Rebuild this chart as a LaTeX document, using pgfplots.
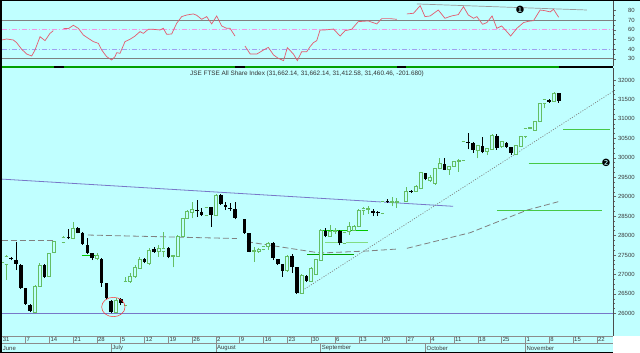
\documentclass[border=0pt]{standalone}
\usepackage{pgfplots}
\pgfplotsset{compat=1.18}
\usepackage{pgfplotstable}
\usepackage{fontspec}
\setmainfont{Liberation Sans}
\newfontfamily\dejavu{DejaVu Sans}
\definecolor{bg}{RGB}{192,255,255}
\definecolor{upg}{RGB}{100,190,100}
\definecolor{rsired}{RGB}{228,90,110}
\definecolor{tlblue}{RGB}{120,120,200}
\definecolor{lblgray}{RGB}{60,60,60}
\definecolor{lnA}{RGB}{0,200,0}
\definecolor{lnB}{RGB}{70,200,70}
\definecolor{lnC}{RGB}{130,220,130}
\definecolor{sepgreen}{RGB}{0,160,0}
\definecolor{rsipink}{RGB}{240,150,230}
\definecolor{rsiblue}{RGB}{160,160,240}

\pgfplotstableread{
x o h l c
0 27300 27440 27130 27320
1 27270 27500 26860 27456
7 26025 26720 26000 26702
8 26702 27285 26685 27242
10 26942 27560 26925 27542
11 27559 27860 27540 27842
13 27817 27990 27800 27954
15 27928 28356 27900 28185
20 27413 27559 27370 27499
24 26025 26385 26010 26325
26 26213 26942 26200 26813
27 26813 27030 26790 26959
28 26942 27242 26920 27174
29 27157 27456 27140 27396
31 27285 27671 27242 27628
33 27585 27760 27456 27671
34 27600 28099 27456 27680
36 27456 27510 27182 27499
37 27473 28014 27456 27971
38 27971 28460 27960 28442
39 28442 28656 28420 28614
40 28596 28871 28442 28674
43 28528 28740 28500 28725
45 28528 29060 28510 29042
53 27600 27713 27328 27625
54 27590 27670 27560 27645
55 27645 27730 27620 27713
56 27713 27842 27628 27799
60 27096 27499 27070 27473
63 26513 27000 26500 26985
65 26830 27200 26810 27150
66 27000 27400 26980 27380
67 27370 28160 27350 28142
69 27988 28271 27970 28117
70 28100 28200 28050 28125
72 27800 28100 27790 28074
73 28100 28357 28014 28228
74 28142 28270 28120 28245
75 28228 28690 28210 28657
76 28650 28743 28540 28700
77 28680 28760 28560 28700
80 28571 28890 28550 28871
82 28860 28990 28750 28885
83 28850 28960 28720 28880
85 28870 29256 28860 29128
87 29145 29300 29130 29256
88 29213 29640 29190 29616
90 29428 29557 29385 29496
91 29342 29740 29300 29728
92 29728 29985 29700 29856
94 29702 29800 29557 29788
95 29788 29920 29770 29899
96 29899 29960 29642 29942
97 29942 30430 29920 30414
100 30200 30340 29985 30328
102 30157 30260 30071 30243
103 30216 30600 30200 30585
105 30285 30430 30260 30414
108 30097 30340 30071 30328
109 30300 30560 30280 30542
110 30542 30770 30520 30757
111 30757 30800 30740 30780
112 30714 30940 30700 30928
113 30928 31420 30910 31400
114 31400 31520 31271 31503
116 31445 31700 31430 31662.14
}\uptab

\pgfplotstableread{
x o h l c
2 27420 27450 27360 27395
3 27370 27842 27113 27268
4 27242 27260 26620 26642
5 26642 26660 26220 26239
6 26213 26230 26025 26059
9 27242 27260 26920 26942
14 27950 28160 27900 27925
16 28185 28228 28057 28074
17 28074 28090 27760 27782
18 27756 27928 27525 27559
19 27540 27559 27370 27413
21 27396 27413 26685 26771
22 26771 26790 26360 26385
23 26325 26340 26000 26025
25 26360 26385 26213 26256
30 27396 27430 27285 27311
32 27645 27713 27560 27585
35 27671 27713 27413 27456
41 28650 28914 28485 28625
42 28614 28700 28500 28528
44 28725 28742 28228 28528
46 29042 29060 28790 28811
47 28785 28871 28656 28742
48 28710 28845 28639 28690
49 28674 28871 28416 28442
51 28420 28430 28040 28057
52 28057 28070 27570 27585
57 27799 27842 27370 27413
58 27388 27400 27250 27268
59 27268 27280 26942 27096
61 27473 27525 27045 27182
62 27182 27200 26500 26513
64 26959 26980 26800 26830
68 28117 28200 27950 27988
71 28117 28140 27750 27800
78 28640 28680 28500 28590
79 28614 28640 28500 28571
81 28885 28950 28840 28865
86 29150 29170 29100 29125
89 29599 29620 29420 29445
93 29839 29985 29680 29685
98 30414 30645 30216 30390
99 30371 30400 30130 30200
101 30300 30542 30114 30157
104 30560 30600 30200 30243
106 30388 30400 30250 30268
107 30268 30280 30071 30114
115 31485 31500 31420 31445
117 31662.14 31662.14 31412.58 31460.46
}\dntab

\pgfplotstableread{
x v
0 49.5
1.04 50.5
2.44 49.5
3.14 46.7
4.2 39.8
5.25 34.9
6.3 32.8
7.0 39.1
8.05 52.9
9.1 48.8
10.15 56.4
10.85 59.2
12 nan
12.95 61.6
14.0 61.3
15.05 64.8
16.1 61.6
17.15 54.7
18.2 51.2
19.25 47.8
20.3 46.0
21.0 39.1
22.05 32.1
23.1 28.7
23.8 32.1
24.15 36.3
24.85 35.6
25.9 47.8
26.95 50.2
28.0 53.6
29.05 58.2
29.75 56.4
30.8 60.6
31.85 60.6
33.25 59.9
33.95 61.6
34.66 55.4
35.7 55.7
36.75 66.8
37.8 73.8
38.86 75.5
40.26 76.6
40.96 75.2
42.0 71.0
43.06 73.8
44.1 66.2
45.16 74.5
46.2 64.1
47.26 61.6
47.96 61.6
49.0 53.6
50 nan
51.1 43.2
52.2 34.9
53.6 34.9
55.0 39.1
56.0 41.8
57.1 33.9
58.1 30.4
59.2 28.0
60.0 41.5
61.27 34.9
62.1 28.0
63.0 37.3
64.07 37.3
64.77 42.5
65.47 46.7
66.17 48.8
66.87 59.9
67.9 59.9
69.7 60.9
71.07 53.6
72.12 59.2
73.5 60.6
74.9 68.6
77.0 69.3
78.8 66.2
79.8 71.7
81.6 71.7
83.0 71.0
84 nan
85.1 76.6
86.5 77.3
87.9 85.2
88.9 73.8
90.0 74.5
91.7 80.7
93.1 72.1
94.5 74.5
95.9 75.9
97.0 84.2
98.0 75.5
99.1 72.1
99.8 73.8
101.0 65.8
101.9 67.6
103.0 74.5
104.0 61.6
105.0 64.1
106.1 58.2
106.9 53.6
108.2 61.6
109.6 67.6
110.6 68.9
111.7 69.6
113.1 80.7
114.1 80.0
115.2 78.7
115.9 81.4
117.0 73.1
}\rsitab

\pgfplotsset{
  common/.style={
    scale only axis, width=611.3bp, anchor=south west,
    xmin=0, xmax=128.4,
    tick align=outside,
    tick style={black!60, line width=0.4bp},
    major tick length=3bp, minor tick length=1.6bp,
    /pgf/number format/assume math mode=true,
    /pgf/number format/1000 sep={},
    yticklabel style={font=\fontsize{6}{7}\selectfont, text=lblgray, text width=18bp, align=right, inner sep=0.5bp},
  },
  daterow/.style={
    scale only axis, width=611.3bp, anchor=south west,
    xmin=0, xmax=128.4, ymin=0, ymax=1, ytick=\empty,
    xmajorgrids, major grid style={black!45, line width=0.5bp},
    major tick length=0pt,
    axis line style={black!45, line width=0.5bp},
    xticklabel style={anchor=west, inner sep=1bp, font=\fontsize{6}{7}\selectfont, text=lblgray},
  },
}

\begin{document}
\begin{tikzpicture}
\useasboundingbox (0,0) rectangle (640bp,353bp);
\fill[bg] (0,0) rectangle (640bp,353bp);

% RSI panel
\begin{axis}[common, at={(1.7bp,286.5bp)}, height=66.5bp,
  ymin=21.9, ymax=91.1,
  axis x line=none, axis y line*=right,
  y axis line style={black!70, line width=0.5bp},
  ytick={30,40,...,80}, minor y tick num=1,
  unbounded coords=jump]
\addplot[gray, line width=0.7bp] coordinates {(0,70) (128.4,70)};
\addplot[gray, line width=0.7bp] coordinates {(0,30) (128.4,30)};
\addplot[rsipink, line width=0.8bp, dash pattern=on 5bp off 2bp on 1bp off 2bp] coordinates {(0,60) (128.4,60)};
\addplot[rsiblue, line width=0.8bp, dash pattern=on 5bp off 2bp on 1bp off 2bp] coordinates {(0,40) (128.4,40)};
\addplot[gray!80, line width=0.7bp] coordinates {(87.2,87.0) (122.9,80.7)};
\addplot[rsired, line width=0.7bp] table[x=x, y=v] {\rsitab};
\end{axis}

% Main price panel
\begin{axis}[common, at={(1.7bp,17bp)}, height=268bp,
  ymin=25416, ymax=32309,
  axis x line=none, axis y line*=right,
  y axis line style={black!70, line width=0.5bp},
  ytick={26000,26500,...,32000}, minor y tick num=3,
  scaled y ticks=false]
\addplot[tlblue, line width=0.8bp] coordinates {(0,26000) (128.4,26000)};
\addplot[tlblue, line width=0.8bp] coordinates {(-0.36,29454) (94.8,28752)};
\addplot[gray, line width=0.8bp, dash pattern=on 6bp off 3bp] coordinates {(0,27867) (11.2,27867)};
\addplot[gray, line width=0.8bp, dash pattern=on 6bp off 3bp] coordinates {(18.1,28013) (49.4,27923)};
\addplot[gray, line width=0.8bp, dash pattern=on 6bp off 3bp] coordinates {(51.5,27841) (66.9,27550) (76.7,27602) (83.1,27653)};
\addplot[gray, line width=0.8bp, dash pattern=on 6bp off 3bp] coordinates {(85.1,27671) (98.4,28073) (110.4,28656) (116.9,28870)};
\addplot[gray, line width=0.7bp, dash pattern=on 1bp off 1.5bp] coordinates {(62.3,26520) (128.4,31707)};
\addplot[lnA, line width=0.8bp] coordinates {(16.8,27499) (20,27499)};
\addplot[sepgreen, line width=0.8bp] coordinates {(64.1,27525) (73.9,27525)};
\addplot[lnA, line width=0.8bp] coordinates {(67.5,28124) (76.9,28124)};
\addplot[lnC, line width=0.8bp] coordinates {(67.9,27815) (76.9,27815)};
\addplot[lnB, line width=0.8bp] coordinates {(117.9,30732) (127.8,30732)};
\addplot[lnB, line width=0.8bp] coordinates {(110.7,29858) (126.3,29858)};
\addplot[lnB, line width=0.8bp] coordinates {(104,28649) (126.1,28649)};
% wicks
\addplot[upg, line width=0.8bp, -, quiver={u=0, v=\thisrow{h}-\thisrow{l}}]
  table[x=x, y=l] {\uptab};
\addplot[black, line width=0.8bp, -, quiver={u=0, v=\thisrow{h}-\thisrow{l}}]
  table[x=x, y=l] {\dntab};
% up bodies (hollow)
\addplot[upg, line width=3.8bp, -, quiver={u=0, v=\thisrow{c}-\thisrow{o}}]
  table[x=x, y=o] {\uptab};
\addplot[bg, line width=2.2bp, -, quiver={u=0, v=\thisrow{c}-\thisrow{o}}]
  table[x=x, y=o] {\uptab};
\addplot[upg, line width=0.8bp, -, quiver={u=0.8, v=0}]
  table[x expr=\thisrow{x}-0.4, y=o] {\uptab};
\addplot[upg, line width=0.8bp, -, quiver={u=0.8, v=0}]
  table[x expr=\thisrow{x}-0.4, y=c] {\uptab};
% down bodies (filled)
\addplot[black, line width=3.6bp, -, quiver={u=0, v=\thisrow{c}-\thisrow{o}}]
  table[x=x, y=o] {\dntab};
\draw[red!80, line width=0.5bp] (axis cs:23.45,26162) ellipse [x radius=11.7bp, y radius=9.7bp];
\end{axis}

% date rows
\begin{axis}[daterow, at={(1.7bp,9.5bp)}, height=7.5bp,
  xtick={0,5,...,125},
  xticklabels={31,7,14,21,28,5,12,19,26,2,9,16,23,30,6,13,20,27,4,11,18,25,1,8,15,22},
  xticklabel style={yshift=3.75bp}]
\end{axis}
\begin{axis}[daterow, at={(1.7bp,1bp)}, height=8.5bp,
  xtick={0,23,45,67,89,110},
  xticklabels={June,July,August,September,October,November},
  xticklabel style={yshift=4bp}]
\end{axis}

% separator between panels
\draw[black, line width=1.6bp] (0,285.8bp) -- (613bp,285.8bp);
\draw[sepgreen, line width=1.6bp] (1.7bp,285.8bp) -- (54.1bp,285.8bp);
\draw[sepgreen, line width=1.6bp] (63.6bp,285.8bp) -- (234.9bp,285.8bp);
\draw[sepgreen, line width=1.6bp] (244.5bp,285.8bp) -- (396.8bp,285.8bp);
\draw[sepgreen, line width=1.6bp] (406.3bp,285.8bp) -- (558.6bp,285.8bp);

% title and markers
\node[font=\fontsize{6.4}{7}\selectfont, text=black!80, inner sep=0] at (307bp,279bp)
  {JSE FTSE All Share Index (31,662.14, 31,662.14, 31,412.58, 31,460.46, -201.680)};
\node[font=\dejavu\fontsize{10}{10}\selectfont, inner sep=0] at (520bp,343bp) {❶};
\node[font=\dejavu\fontsize{10}{10}\selectfont, inner sep=0] at (606bp,190bp) {❷};

% frame
\fill[white] (613bp,0) rectangle (640bp,16.8bp);
\fill[black] (0,0) rectangle (613bp,1.2bp);
\fill[black] (0,0) rectangle (1.5bp,353bp);
\fill[black] (0,352bp) rectangle (640bp,353bp);
\end{tikzpicture}
\end{document}
